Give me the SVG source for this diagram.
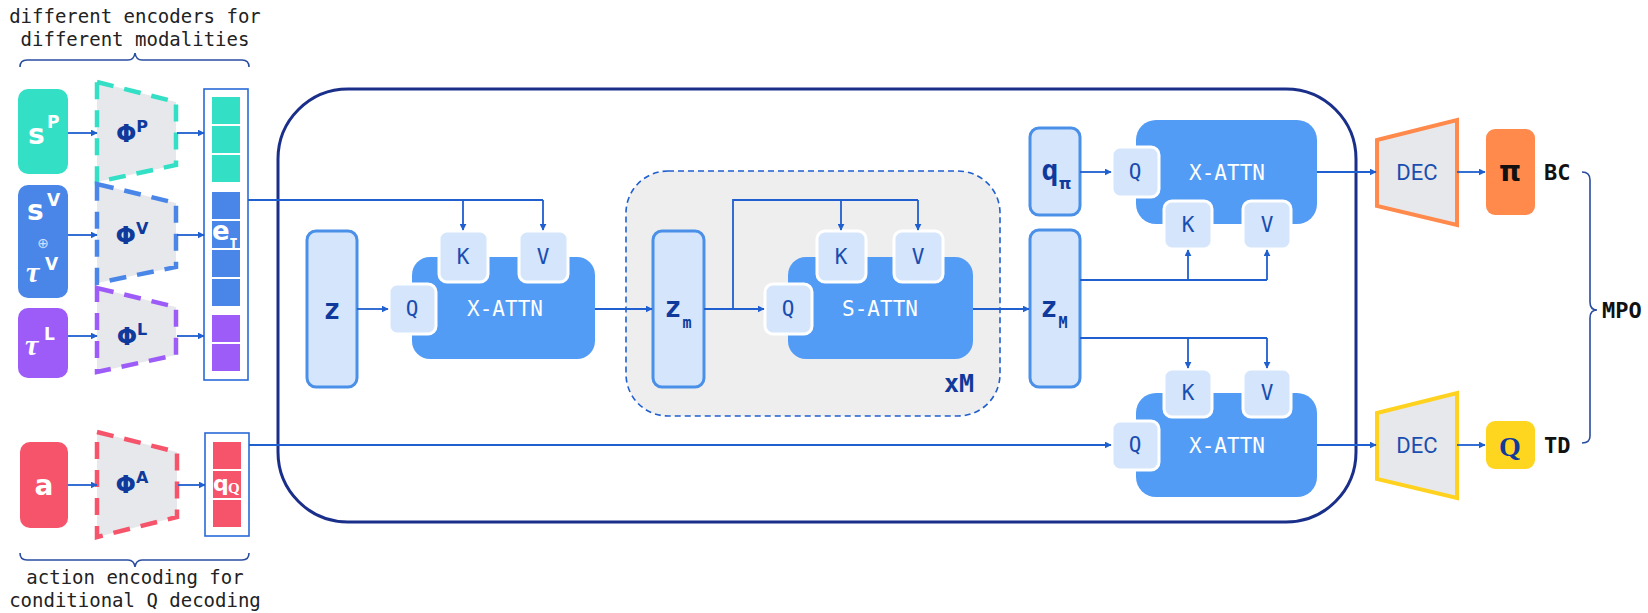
<svg xmlns="http://www.w3.org/2000/svg" width="1648" height="613" viewBox="0 0 1648 613">
<defs>
<marker id="ar" viewBox="0 0 10 10" refX="9" refY="5" markerWidth="7" markerHeight="7" orient="auto" markerUnits="userSpaceOnUse"><path d="M0,0L10,5L0,10z" fill="#1F5FD0"/></marker>
<style>
.cn{fill:none;stroke:#1F5FD0;stroke-width:1.8}
.lb{fill:#D5E5FC;stroke:#4A90E8;stroke-width:3}
.qkv{fill:#D5E5FC;stroke:#FFFFFF;stroke-width:3}
.blk{fill:#529CF5}
.tr{fill:#E7E8EC;stroke-width:4.5;stroke-dasharray:17 11}
.mono{font-family:"DejaVu Sans Mono","Liberation Mono",monospace}
.cap{font-family:"DejaVu Sans Mono","Liberation Mono",monospace;font-size:19px;fill:#222;text-anchor:middle}
.w{fill:#fff;font-family:"DejaVu Sans","Liberation Sans",sans-serif;font-weight:bold}
.db{fill:#10399C}
.l20{font-family:"DejaVu Sans Mono",monospace;font-size:21px;fill:#1A4DB0;text-anchor:middle}
.att{font-family:"DejaVu Sans Mono",monospace;font-size:21px;fill:#fff;text-anchor:middle}
.phi{font-family:"DejaVu Sans","Liberation Sans",sans-serif;font-weight:bold;font-size:24px;fill:#10399C;text-anchor:middle}
.brace{fill:none;stroke:#2A4DA0;stroke-width:1.6}
</style>
</defs>

<g id="captions">
<text class="cap" x="135" y="23">different encoders for</text>
<text class="cap" x="135" y="46">different modalities</text>
<path class="brace" d="M20,67 Q20,60 27,60 L128,60 Q134,60 135,53 Q136,60 142,60 L242,60 Q249,60 249,67"/>
<path class="brace" d="M20,553 Q20,560 27,560 L128,560 Q134,560 135,567 Q136,560 142,560 L242,560 Q249,560 249,553"/>
<text class="cap" x="135" y="584">action encoding for</text>
<text class="cap" x="135" y="607">conditional Q decoding</text>
</g>

<g id="mainbox"><rect x="278" y="89" width="1078" height="433" rx="70" fill="none" stroke="#1A2F8A" stroke-width="3"/></g>
<g id="repeat"><rect x="626" y="171" width="374" height="245" rx="42" fill="#EEEEEE" stroke="#1F5FD0" stroke-width="1.6" stroke-dasharray="6 4"/>
<text class="mono db" x="944" y="392" font-size="25" font-weight="bold">xM</text></g>

<g id="inputs">
<g id="sP"><rect x="18" y="89" width="50" height="85" rx="10" fill="#33E0C6"/><text class="w" x="28" y="144" font-size="28">s</text><text class="w" x="47" y="128" font-size="17">P</text></g>
<g id="sV"><rect x="18" y="185" width="50" height="113" rx="10" fill="#4A86E8"/><text class="w" x="27" y="220" font-size="28">s</text><text class="w" x="47" y="206" font-size="17">V</text><text x="43" y="248" font-size="14" fill="#cfe0ff" text-anchor="middle" font-family="DejaVu Sans">⊕</text><text x="26" y="282" font-size="30" fill="#fff" font-style="italic" font-weight="bold" font-family="Liberation Serif,serif">τ</text><text class="w" x="45" y="270" font-size="17">V</text></g>
<g id="tL"><rect x="18" y="308" width="50" height="70" rx="10" fill="#9D5CF7"/><text x="25" y="355" font-size="30" fill="#fff" font-style="italic" font-weight="bold" font-family="Liberation Serif,serif">τ</text><text class="w" x="44" y="340" font-size="17">L</text></g>
<g id="a"><rect x="20" y="442" width="48" height="86" rx="10" fill="#F5546A"/><text class="w" x="44" y="495" font-size="28" text-anchor="middle">a</text></g>
</g>

<g id="encoders">
<g id="phiP"><path class="tr" stroke="#33E0C6" d="M97,82 L176,102 L176,165 L97,182 Z"/><text class="phi" x="132" y="142">Φ<tspan font-size="16" dy="-10">P</tspan></text></g>
<g id="phiV"><path class="tr" stroke="#4A86E8" d="M97,184 L176,203 L176,267 L97,283 Z"/><text class="phi" x="132" y="244">Φ<tspan font-size="16" dy="-10">V</tspan></text></g>
<g id="phiL"><path class="tr" stroke="#9D5CF7" d="M97,288 L176,307 L176,355 L97,372 Z"/><text class="phi" x="132" y="345">Φ<tspan font-size="16" dy="-10">L</tspan></text></g>
<g id="phiA"><path class="tr" stroke="#F5546A" d="M97,432 L177,452 L177,517 L97,537 Z"/><text class="phi" x="132" y="493">Φ<tspan font-size="16" dy="-10">A</tspan></text></g>
</g>

<g id="eI">
<rect x="204" y="89" width="44" height="291" fill="#fff" stroke="#2A6AD8" stroke-width="1.6"/>
<rect x="212" y="97" width="28" height="27" fill="#33E0C6"/><rect x="212" y="126" width="28" height="27" fill="#33E0C6"/><rect x="212" y="155" width="28" height="27" fill="#33E0C6"/>
<rect x="212" y="192" width="28" height="27" fill="#4A86E8"/><rect x="212" y="221" width="28" height="27" fill="#4A86E8"/><rect x="212" y="250" width="28" height="27" fill="#4A86E8"/><rect x="212" y="279" width="28" height="27" fill="#4A86E8"/>
<rect x="212" y="315" width="28" height="27" fill="#9D5CF7"/><rect x="212" y="344" width="28" height="27" fill="#9D5CF7"/>
<text class="w" x="212" y="240" font-size="26">e</text><text x="229" y="250" font-size="15" fill="#fff" font-family="DejaVu Sans Mono" font-weight="bold">I</text>
</g>
<g id="qQ">
<rect x="205" y="433" width="44" height="103" fill="#fff" stroke="#2A6AD8" stroke-width="1.6"/>
<rect x="213" y="442" width="28" height="27" fill="#F5546A"/><rect x="213" y="471" width="28" height="27" fill="#F5546A"/><rect x="213" y="500" width="28" height="27" fill="#F5546A"/>
<text class="w" x="213" y="491" font-size="22">q</text><text x="228" y="493" font-size="15" fill="#fff" font-family="Liberation Serif,serif" font-weight="bold">Q</text>
</g>

<g id="z"><rect class="lb" x="307" y="231" width="50" height="156" rx="9"/><text class="mono db" x="332" y="319" font-size="28" font-weight="bold" text-anchor="middle">z</text></g>
<g id="zm"><rect class="lb" x="653" y="231" width="51" height="156" rx="9"/><text class="mono db" x="673" y="317" font-size="28" font-weight="bold" text-anchor="middle">z</text><text class="mono db" x="687" y="328" font-size="15" font-weight="bold" text-anchor="middle">m</text></g>
<g id="zM"><rect class="lb" x="1030" y="230" width="50" height="157" rx="9"/><text class="mono db" x="1049" y="317" font-size="28" font-weight="bold" text-anchor="middle">z</text><text class="mono db" x="1063" y="328" font-size="15" font-weight="bold" text-anchor="middle">M</text></g>
<g id="qpi"><rect class="lb" x="1030" y="128" width="50" height="87" rx="9"/><text class="mono db" x="1050" y="180" font-size="28" font-weight="bold" text-anchor="middle">q</text><text x="1065" y="189" font-size="16" font-weight="bold" fill="#10399C" text-anchor="middle" font-family="DejaVu Sans">π</text></g>

<g id="xattn1"><rect class="blk" x="412" y="257" width="183" height="102" rx="18"/>
<rect class="qkv" x="389" y="284" width="47" height="50" rx="8"/><text class="l20" x="412" y="316">Q</text>
<rect class="qkv" x="439" y="231" width="49" height="51" rx="8"/><text class="l20" x="463" y="264">K</text>
<rect class="qkv" x="519" y="231" width="49" height="51" rx="8"/><text class="l20" x="543" y="264">V</text>
<text class="att" x="505" y="316">X-ATTN</text></g>
<g id="sattn"><rect class="blk" x="788" y="257" width="185" height="102" rx="18"/>
<rect class="qkv" x="765" y="284" width="47" height="50" rx="8"/><text class="l20" x="788" y="316">Q</text>
<rect class="qkv" x="817" y="231" width="49" height="51" rx="8"/><text class="l20" x="841" y="264">K</text>
<rect class="qkv" x="894" y="231" width="49" height="51" rx="8"/><text class="l20" x="918" y="264">V</text>
<text class="att" x="880" y="316">S-ATTN</text></g>
<g id="xattn2"><rect class="blk" x="1136" y="120" width="181" height="104" rx="20"/>
<rect class="qkv" x="1112" y="147" width="47" height="50" rx="8"/><text class="l20" x="1135" y="179">Q</text>
<rect class="qkv" x="1164" y="201" width="48" height="48" rx="8"/><text class="l20" x="1188" y="232">K</text>
<rect class="qkv" x="1243" y="201" width="48" height="48" rx="8"/><text class="l20" x="1267" y="232">V</text>
<text class="att" x="1227" y="180">X-ATTN</text></g>
<g id="xattn3"><rect class="blk" x="1136" y="393" width="181" height="104" rx="20"/>
<rect class="qkv" x="1164" y="369" width="48" height="48" rx="8"/><text class="l20" x="1188" y="400">K</text>
<rect class="qkv" x="1243" y="369" width="48" height="48" rx="8"/><text class="l20" x="1267" y="400">V</text>
<rect class="qkv" x="1112" y="421" width="47" height="49" rx="8"/><text class="l20" x="1135" y="452">Q</text>
<text class="att" x="1227" y="453">X-ATTN</text></g>

<g id="dec1"><path d="M1377,140 L1457,120 L1457,225 L1377,206 Z" fill="#E7E8EC" stroke="#FF8A4C" stroke-width="4"/><text x="1417" y="180" font-size="22" fill="#1A4DB0" text-anchor="middle" font-family="Roboto,Liberation Sans,sans-serif">DEC</text></g>
<g id="dec2"><path d="M1377,413 L1457,393 L1457,498 L1377,479 Z" fill="#E7E8EC" stroke="#FFD21F" stroke-width="4"/><text x="1417" y="453" font-size="22" fill="#1A4DB0" text-anchor="middle" font-family="Roboto,Liberation Sans,sans-serif">DEC</text></g>
<g id="pi"><rect x="1486" y="129" width="49" height="86" rx="9" fill="#FF8A4C"/><text x="1510" y="181" font-size="28" font-weight="bold" fill="#111" text-anchor="middle" font-family="DejaVu Sans,sans-serif">π</text></g>
<g id="Qout"><rect x="1486" y="421" width="49" height="48" rx="9" fill="#FFD61F"/><text x="1510" y="456" font-size="28" font-weight="bold" fill="#10399C" text-anchor="middle" font-family="Liberation Serif,serif">Q</text></g>
<g id="labels">
<text class="mono" x="1544" y="180" font-size="22" font-weight="bold" fill="#111">BC</text>
<text class="mono" x="1544" y="453" font-size="22" font-weight="bold" fill="#111">TD</text>
<text class="mono" x="1602" y="318" font-size="22" font-weight="bold" fill="#111">MPO</text>
<path class="brace" d="M1582,172 Q1590,172 1590,180 L1590,302 Q1590,310 1597,310 Q1590,310 1590,318 L1590,436 Q1590,443 1582,443"/>
</g>

<g id="connectors">
<path class="cn" marker-end="url(#ar)" d="M68,133 L97,133"/>
<path class="cn" marker-end="url(#ar)" d="M177,133 L204,133"/>
<path class="cn" marker-end="url(#ar)" d="M68,235 L97,235"/>
<path class="cn" marker-end="url(#ar)" d="M177,235 L204,235"/>
<path class="cn" marker-end="url(#ar)" d="M68,336 L97,336"/>
<path class="cn" marker-end="url(#ar)" d="M177,336 L204,336"/>
<path class="cn" marker-end="url(#ar)" d="M68,485 L97,485"/>
<path class="cn" marker-end="url(#ar)" d="M178,485 L205,485"/>
<path class="cn" d="M248,200 L543,200"/>
<path class="cn" marker-end="url(#ar)" d="M463,200 L463,230"/>
<path class="cn" marker-end="url(#ar)" d="M543,200 L543,230"/>
<path class="cn" marker-end="url(#ar)" d="M357,309 L388,309"/>
<path class="cn" marker-end="url(#ar)" d="M595,309 L652,309"/>
<path class="cn" marker-end="url(#ar)" d="M704,309 L764,309"/>
<path class="cn" d="M733,309 L733,200 L918,200"/>
<path class="cn" marker-end="url(#ar)" d="M841,200 L841,230"/>
<path class="cn" marker-end="url(#ar)" d="M918,200 L918,230"/>
<path class="cn" marker-end="url(#ar)" d="M973,309 L1029,309"/>
<path class="cn" marker-end="url(#ar)" d="M1080,172 L1111,172"/>
<path class="cn" d="M1080,280 L1267,280"/>
<path class="cn" marker-end="url(#ar)" d="M1188,280 L1188,250"/>
<path class="cn" marker-end="url(#ar)" d="M1267,280 L1267,250"/>
<path class="cn" d="M1080,338 L1267,338"/>
<path class="cn" marker-end="url(#ar)" d="M1188,338 L1188,368"/>
<path class="cn" marker-end="url(#ar)" d="M1267,338 L1267,368"/>
<path class="cn" marker-end="url(#ar)" d="M249,445 L1111,445"/>
<path class="cn" marker-end="url(#ar)" d="M1317,172 L1376,172"/>
<path class="cn" marker-end="url(#ar)" d="M1457,172 L1485,172"/>
<path class="cn" marker-end="url(#ar)" d="M1317,445 L1376,445"/>
<path class="cn" marker-end="url(#ar)" d="M1457,445 L1485,445"/>
</g>
</svg>
